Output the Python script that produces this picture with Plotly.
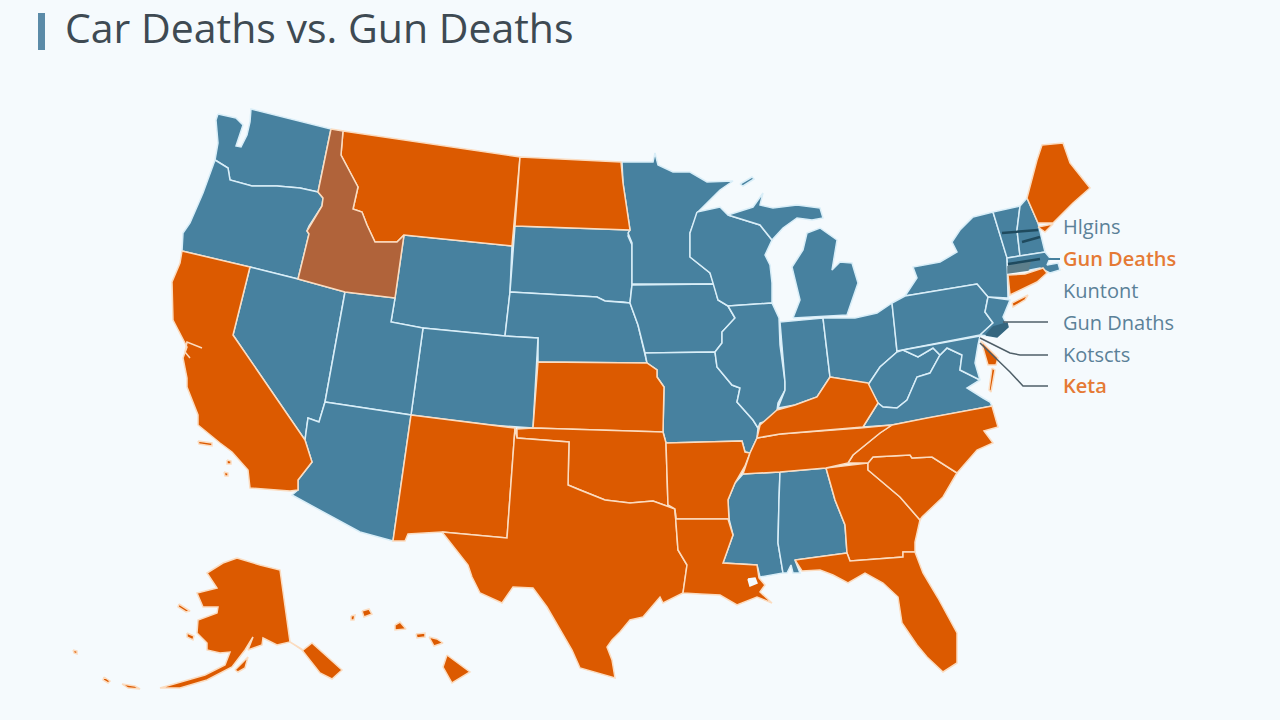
import plotly.graph_objects as go

# the built in usa map needs a download, so outlines are read off the picture
# every outline is a list of (x, y) in picture pixels

# states
WA = [(218,114),(236,118),(243,125),(240,135),(236,146),(241,147),(247,135),(250,122),(251,109),(331,129),(318,192),(300,188),(277,186),(252,186),(230,180),(228,168),(215,160),(218,143),(216,120)]
OR = [(215,160),(228,168),(230,180),(252,186),(277,186),(300,188),(318,192),(323,198),(322,206),(309,226),(307,231),(309,234),(298,279),(250,267),(182,251),(183,233),(190,223),(203,193)]
ID = [(331,129),(343,131),(341,155),(358,187),(353,209),(362,212),(367,225),(375,242),(397,242),(404,235),(395,298),(345,292),(298,279),(309,234),(307,231),(322,206),(323,198),(318,192)]
MT = [(343,131),(520,157),(512,246),(404,235),(402,237),(397,242),(375,242),(367,225),(362,212),(353,209),(358,187),(341,155)]
ND = [(520,157),(621,162),(623,183),(630,230),(515,226)]
SD = [(515,226),(630,230),(628,236),(632,245),(632,284),(630,303),(623,302),(605,301),(597,297),(510,292)]
WY = [(404,235),(512,246),(510,292),(505,336),(423,328),(391,322),(395,298)]
NE = [(510,292),(597,297),(605,301),(623,302),(630,303),(638,325),(645,353),(647,363),(538,362),(538,338),(505,336)]
CO = [(423,328),(505,336),(538,338),(533,428),(490,425),(411,415)]
KS = [(538,362),(647,363),(657,370),(657,377),(664,387),(663,432),(533,428)]
OK = [(517,429),(533,428),(663,432),(666,443),(668,505),(675,509),(653,501),(630,503),(605,500),(580,490),(568,485),(569,442),(517,438)]
NM = [(411,415),(515,428),(507,538),(442,532),(408,534),(405,541),(393,541)]
TX = [(515,428),(517,438),(569,442),(568,485),(580,490),(605,500),(630,503),(653,501),(675,509),(678,550),(687,565),(683,593),(663,603),(660,597),(643,617),(630,620),(620,632),(612,640),(607,647),(612,660),(615,678),(580,668),(572,650),(547,607),(533,588),(513,587),(502,603),(480,593),(472,577),(468,565),(442,532),(507,538)]
AR = [(666,443),(742,441),(745,452),(750,453),(745,466),(735,483),(728,500),(729,519),(676,519),(675,509),(668,505)]
LA = [(676,519),(728,519),(733,535),(723,563),(757,565),(759,578),(765,585),(760,592),(772,603),(757,597),(737,605),(720,595),(700,594),(683,593),(687,565),(678,550),(675,510)]
MS = [(743,474),(780,472),(779,500),(778,543),(783,573),(760,577),(757,565),(723,563),(733,535),(729,519),(728,500),(735,483)]
AL = [(780,472),(826,468),(835,500),(845,525),(847,553),(795,560),(800,573),(793,573),(791,565),(787,573),(783,573),(778,543),(779,500)]
GA = [(826,468),(868,463),(868,470),(900,497),(920,520),(915,542),(915,552),(903,552),(903,557),(850,561),(847,553),(845,525),(835,500)]
FL = [(795,560),(847,553),(850,561),(903,557),(903,552),(915,552),(923,573),(938,598),(957,633),(957,663),(943,672),(927,657),(917,645),(902,623),(898,597),(883,583),(865,573),(848,583),(833,575),(820,570),(802,571)]
SC = [(868,463),(873,457),(910,455),(912,458),(932,457),(957,473),(943,497),(922,517),(920,520),(900,497),(868,470)]
NC = [(892,425),(927,418),(992,406),(998,427),(984,431),(993,443),(977,450),(957,473),(932,457),(912,458),(910,455),(873,457),(868,463),(848,463),(853,455),(880,433)]
TN = [(757,438),(780,434),(860,428),(892,425),(880,433),(853,455),(848,463),(826,468),(780,472),(743,474),(750,453)]
KY = [(760,425),(777,410),(795,405),(817,397),(830,377),(860,382),(868,383),(878,403),(863,427),(780,434),(757,438)]
IL = [(728,306),(772,303),(779,318),(780,345),(785,382),(785,390),(778,403),(776,418),(760,423),(758,428),(753,420),(737,402),(740,388),(732,385),(717,367),(715,352),(722,343),(722,332),(735,318)]
WI = [(697,212),(720,207),(728,215),(760,225),(772,240),(765,255),(770,265),(772,283),(772,303),(728,306),(718,300),(710,273),(690,257),(690,233)]
MN = [(622,162),(653,162),(655,153),(658,165),(673,172),(690,172),(707,182),(733,181),(720,190),(698,212),(690,233),(690,257),(710,273),(714,284),(632,284),(632,243),(628,233),(630,230),(623,183)]
IA = [(632,285),(714,284),(718,300),(728,306),(735,318),(722,332),(722,343),(715,352),(645,353),(638,325),(630,303)]
MO = [(645,353),(715,352),(717,367),(732,385),(740,388),(737,402),(753,420),(758,428),(757,438),(750,453),(745,452),(742,441),(666,443),(663,432),(664,387),(657,377),(657,370),(647,363)]
IN = [(780,322),(823,318),(830,377),(817,397),(795,405),(778,408),(785,390),(785,382)]
OH = [(823,318),(855,318),(877,313),(892,303),(895,330),(897,352),(880,367),(868,385),(860,382),(830,377)]
MI_LOWER = [(793,318),(847,315),(858,283),(852,263),(840,262),(832,270),(837,240),(820,228),(807,233),(803,250),(792,267),(800,300)]
MI_UPPER = [(728,215),(753,207),(763,193),(760,205),(773,208),(797,205),(820,208),(823,218),(812,220),(797,218),(783,228),(772,240),(760,225)]
MI_ISLE = [(740,184),(752,177),(754,179),(743,186)]
NY = [(993,212),(973,217),(960,230),(952,242),(957,252),(940,262),(913,267),(917,278),(905,296),(977,284),(988,297),(1008,298),(1007,257)]
PA = [(892,303),(905,296),(977,284),(988,297),(985,312),(993,323),(980,335),(897,351)]
NJ = [(988,297),(1010,300),(1003,317),(1008,327),(997,337),(980,335),(993,323),(985,312)]
NJ_DARK = [(993,327),(1007,323),(1008,327),(997,337),(986,335)]
WV = [(897,352),(903,350),(918,357),(933,348),(940,355),(930,373),(917,377),(907,400),(897,408),(883,407),(878,403),(868,385),(880,367)]
VA = [(878,403),(883,407),(897,408),(907,400),(917,377),(930,373),(940,355),(947,348),(962,355),(960,370),(980,380),(967,388),(983,398),(990,402),(992,406),(927,418),(892,425),(863,427)]
MD = [(903,350),(980,336),(978,345),(975,363),(980,380),(960,370),(962,355),(947,348),(940,355),(933,348),(918,357)]
DE = [(981,341),(998,358),(996,365),(988,365)]
VA_SHORE = [(992,368),(995,370),(991,392),(989,390)]
VT = [(993,212),(1020,206),(1017,230),(1020,256),(1007,258)]
NH = [(1020,206),(1027,198),(1038,223),(1043,245),(1045,252),(1020,256),(1017,230)]
ME = [(1027,198),(1037,160),(1042,145),(1063,143),(1070,163),(1090,188),(1073,203),(1053,223),(1038,223)]
ME_SOUTH = [(1038,227),(1053,224),(1045,232)]
MA = [(1007,258),(1045,252),(1050,258),(1047,265),(1058,263),(1060,270),(1050,273),(1040,268),(1030,270),(1008,273)]
CT = [(1008,275),(1025,274),(1043,268),(1047,273),(1037,282),(1010,295)]
LONG_ISLAND = [(1012,303),(1028,295),(1025,300),(1013,307)]
NV = [(250,267),(298,279),(345,292),(325,402),(319,422),(308,418),(305,440),(233,335)]
CA = [(182,251),(250,267),(233,335),(305,440),(312,462),(298,480),(298,490),(290,491),(250,488),(248,470),(232,452),(220,443),(198,425),(198,415),(187,387),(187,378),(183,358),(187,347),(173,320),(172,290),(172,282),(180,263)]
CA_ISLE_1 = [(198,441),(212,443),(212,446),(199,444)]
CA_ISLE_2 = [(227,460),(231,461),(231,464),(227,464)]
CA_ISLE_3 = [(224,472),(228,473),(228,476),(225,476)]
UT = [(345,292),(395,298),(391,322),(423,328),(411,415),(325,402)]
AZ = [(325,402),(411,415),(393,541),(360,532),(292,495),(298,490),(298,480),(312,462),(305,440),(308,418),(319,422)]

# alaska and its islands
AK = [(237,558),(223,563),(207,573),(217,588),(197,593),(203,607),(218,607),(217,613),(198,620),(197,633),(207,643),(207,650),(220,653),(230,652),(225,665),(205,675),(160,688),(180,688),(207,680),(232,667),(245,650),(253,637),(248,650),(262,645),(263,638),(277,645),(290,642),(280,570),(260,565)]
AK_PANHANDLE = [(290,642),(303,650),(312,643),(342,670),(332,679),(320,673),(302,650)]
AK_KODIAK = [(235,670),(248,657),(245,668),(238,672)]
AK_ISLE_1 = [(179,604),(190,611),(186,612),(178,607)]
AK_ISLE_2 = [(187,633),(194,636),(193,640),(187,637)]
AK_ISLE_3 = [(122,684),(135,686),(140,689),(128,688)]
AK_ISLE_4 = [(104,677),(110,681),(108,683),(103,680)]
AK_ISLE_5 = [(73,650),(77,651),(77,654),(74,653)]

# hawaii
HI_1 = [(362,611),(369,609),(372,614),(364,617)]
HI_2 = [(351,616),(355,615),(354,620),(351,620)]
HI_3 = [(395,625),(400,622),(406,629),(395,630)]
HI_4 = [(416,634),(425,633),(425,637),(417,638)]
HI_5 = [(429,637),(437,639),(443,643),(434,646)]
HI_6 = [(447,655),(470,672),(452,683),(443,667)]

blue_shapes = [WA, OR, WY, SD, NE, CO, NV, UT, AZ, MN, IA, MO, WI, IL, MI_LOWER, MI_UPPER, MI_ISLE, IN, OH, MS, AL,
               NY, PA, NJ, WV, VA, MD, VT, NH, MA]
orange_shapes = [MT, ND, KS, OK, NM, TX, AR, LA, GA, FL, SC, NC, TN, KY, ME, ME_SOUTH, CT, LONG_ISLAND, DE, VA_SHORE,
                 CA, CA_ISLE_1, CA_ISLE_2, CA_ISLE_3, AK, AK_PANHANDLE, AK_KODIAK, AK_ISLE_1, AK_ISLE_2, AK_ISLE_3,
                 AK_ISLE_4, AK_ISLE_5, HI_1, HI_2, HI_3, HI_4, HI_5, HI_6]
brown_shapes = [ID]

# small marks on top of the map
BAY_MARK = [(202,348),(187,342),(185,352),(190,358)]
LAKE_MARK = [(748,579),(755,578),(757,583),(750,586)]
DARK_STRIPES = [[(1002,233),(1038,230)], [(1022,242),(1040,237)], [(1008,264),(1040,259)]]
GREY_PATCH = [(1008,266),(1030,262),(1028,270),(1008,273)]

# leader lines and labels
LEADER_LINES = [[(1003,322),(1048,322)],
                [(980,338),(1010,353),(1020,355),(1048,355)],
                [(980,343),(1010,372),(1023,386),(1048,386)]]
LEADER_TICK = [(1045,259),(1060,259)]
labels = ['Hlgins', 'Gun Deaths', 'Kuntont', 'Gun Dnaths', 'Kotscts', 'Keta']
label_y = [226, 258, 290, 322, 354, 385]
label_colors = ['#5b8198', '#e57a35', '#5b8198', '#5b8198', '#5b8198', '#e57a35']

title_text = 'Car Deaths vs. Gun Deaths'

BLUE = '#47819f'
ORANGE = '#dc5a00'
BROWN = '#b0633a'
DARK_BLUE = '#35667f'
BLUE_LINE = '#d9eef8'
ORANGE_LINE = '#fbdcc0'
BG = '#f5fafd'

fig = go.Figure()


def add_shape_trace(points, fill, line):
    fig.add_trace(go.Scatter(
        x=[p[0] for p in points] + [points[0][0]],
        y=[p[1] for p in points] + [points[0][1]],
        mode='lines',
        fill='toself',
        fillcolor=fill,
        line=dict(color=line, width=1.5),
        hoverinfo='skip',
        showlegend=False
    ))


def add_line_trace(points, color, width):
    fig.add_trace(go.Scatter(
        x=[p[0] for p in points],
        y=[p[1] for p in points],
        mode='lines',
        line=dict(color=color, width=width),
        hoverinfo='skip',
        showlegend=False
    ))


for s in blue_shapes:
    add_shape_trace(s, BLUE, BLUE_LINE)
for s in orange_shapes:
    add_shape_trace(s, ORANGE, ORANGE_LINE)
for s in brown_shapes:
    add_shape_trace(s, BROWN, ORANGE_LINE)

add_shape_trace(NJ_DARK, DARK_BLUE, DARK_BLUE)
add_shape_trace(GREY_PATCH, '#5d7f8c', '#5d7f8c')
add_shape_trace(LAKE_MARK, BG, BG)
add_line_trace(BAY_MARK, ORANGE_LINE, 1.5)
for s in DARK_STRIPES:
    add_line_trace(s, '#1f4a5e', 2.5)
for s in LEADER_LINES:
    add_line_trace(s, '#4f5f68', 1.5)
add_line_trace(LEADER_TICK, '#47819f', 2)

for text, y, color in zip(labels, label_y, label_colors):
    fig.add_annotation(
        x=1061, y=y, text=text, showarrow=False, xanchor='left', yanchor='middle',
        font=dict(family='Open Sans', size=20, color=color,
                  weight=600 if color == '#e57a35' else 400)
    )

fig.add_annotation(
    x=63, y=27, text=title_text, showarrow=False, xanchor='left', yanchor='middle',
    font=dict(family='Open Sans', size=41, color='#3e4a53')
)
# accent bar next to the title
fig.add_shape(type='rect', x0=38, x1=45, y0=13, y1=50, fillcolor='#5b8ba8', line_width=0)

fig.update_layout(
    width=1280,
    height=720,
    margin=dict(l=0, r=0, t=0, b=0),
    paper_bgcolor=BG,
    plot_bgcolor=BG,
    xaxis=dict(range=[0, 1280], visible=False, fixedrange=True),
    yaxis=dict(range=[720, 0], visible=False, fixedrange=True)
)

# the page has a default body margin, take it off so the chart fills the window
fig.write_html("out.html", config={'displayModeBar': False},
               post_script="document.body.style.margin = '0';")
